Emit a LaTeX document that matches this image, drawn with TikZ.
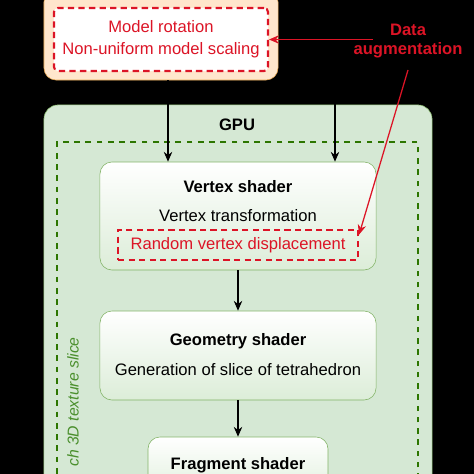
\documentclass[tikz,border=0pt]{standalone}
\usepackage{fontspec}
\setmainfont{Liberation Sans}
\usepackage{xcolor}
\usetikzlibrary{arrows.meta}
\definecolor{augred}{HTML}{DC1426}
\definecolor{cpufill}{HTML}{FFE6CC}
\definecolor{cpuline}{HTML}{E8A850}
\definecolor{gpufill}{HTML}{D5E8D4}
\definecolor{gpuline}{HTML}{82B366}
\definecolor{shadegreen}{HTML}{DCEDD8}
\definecolor{loopgreen}{HTML}{2D7600}
\definecolor{looptext}{HTML}{4A8F2C}

\begin{document}
\begin{tikzpicture}[x=0.025cm, y=-0.025cm, font=\fontsize{11.8}{14}\selectfont,
    shader/.style={rectangle, rounded corners=0.3cm, draw=gpuline, top color=white, bottom color=shadegreen, minimum width=6.9cm},
    aug/.style={rectangle, draw=augred, dash pattern=on 4.5pt off 3pt, line width=1.5pt, text=augred},
    flow/.style={-{Stealth[length=7pt, width=6pt]}, thick},
    augarrow/.style={-{Stealth[length=7pt, width=6pt]}, draw=augred, line width=0.9pt}]
        \useasboundingbox (0,0) rectangle (474,474);
        \clip (0,0) rectangle (474,474);
        \fill[black] (0,0) rectangle (474,474);
        % CPU side
        \node[draw=cpuline, fill=cpufill, rounded corners=0.3cm, minimum width=5.85cm, minimum height=2.25cm] (cpu) at (161,35) {};
        \node[aug, fill=white, rounded corners=0.1cm, minimum width=5.35cm, minimum height=1.575cm, align=center, font=\fontsize{11.8}{15.6}\selectfont] (modelaug) at (161,39.5) {Model rotation\\Non-uniform model scaling};
        \node[text=augred, align=center, font=\fontsize{11.8}{13.5}\selectfont\bfseries] (dataaug) at (408,41) {Data\\augmentation};
        % GPU side
        \node[draw=gpuline, fill=gpufill, rounded corners=0.35cm, minimum width=9.7cm, minimum height=9.625cm] (gpu) at (238,297.5) {};
        \node[font=\fontsize{11.8}{14}\selectfont\bfseries] (gputitle) at (237,125) {GPU};
        \node[draw=loopgreen, dash pattern=on 4pt off 4pt, line width=1.4pt, minimum width=9.025cm, minimum height=8.95cm] (loop) at (237.5,321) {};
        \node[rotate=90, anchor=east, inner sep=0pt, text=looptext, font=\fontsize{11.2}{14}\selectfont\itshape] (looptitle) at (73,337) {ch 3D texture slice};
        \node[shader, minimum height=2.7cm] (vertex) at (238,216) {};
        \node[font=\fontsize{11.8}{14}\selectfont\bfseries] (vertextitle) at (238,187) {Vertex shader};
        \node (vertextext) at (238,216) {Vertex transformation};
        \node[aug, minimum width=6cm, minimum height=0.75cm] (vertexaug) at (238,245) {Random vertex displacement};
        \node[shader, minimum height=2.225cm] (geometry) at (238,355.5) {};
        \node[font=\fontsize{11.8}{14}\selectfont\bfseries] (geometrytitle) at (238,341) {Geometry shader};
        \node (geometrytext) at (238,370) {Generation of slice of tetrahedron};
        \node[shader, minimum width=4.5cm, minimum height=1.65cm] (fragment) at (238,470) {};
        \node[font=\fontsize{11.8}{14}\selectfont\bfseries] (fragmenttitle) at (238,465) {Fragment shader};
        % connectors
        \coordinate (in1) at (168,0);
        \coordinate (in2) at (335,0);
        \coordinate (augtip) at (373,39.5);
        \draw[flow] (in1 |- cpu.south) -- (in1 |- vertex.north);
        \draw[flow] (in2 |- cpu.south) -- (in2 |- vertex.north);
        \draw[flow] (vertex) -- (geometry);
        \draw[flow] (geometry) -- (fragment);
        \draw[augarrow] (augtip) -- (modelaug.east);
        \draw[augarrow] ([yshift=-5pt]dataaug.south) -- ([yshift=-4pt]vertexaug.north east);
    \end{tikzpicture}
\end{document}
